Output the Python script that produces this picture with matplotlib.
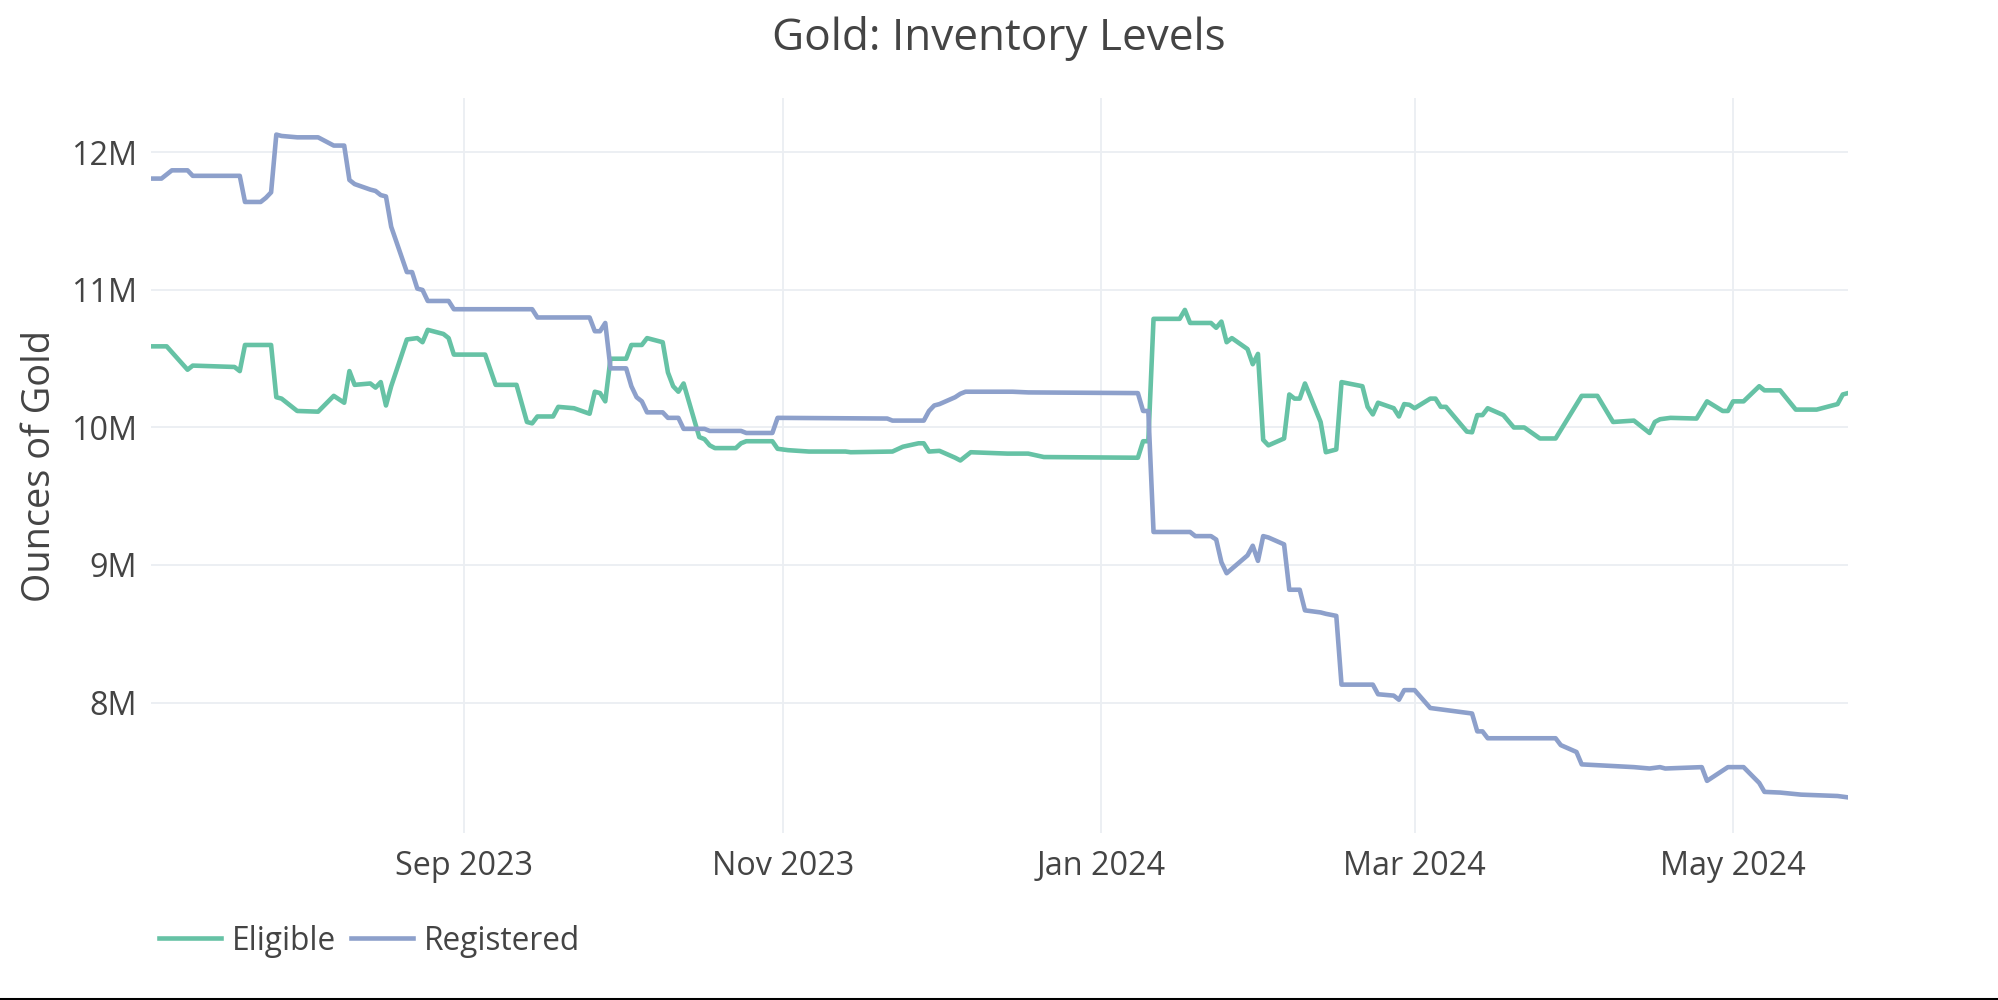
import numpy as np
import matplotlib
matplotlib.use('Agg')
import matplotlib.pyplot as plt
import matplotlib.dates as mdates
import pandas as pd
from matplotlib.lines import Line2D

plt.rcParams['font.family'] = ['Open Sans', 'DejaVu Sans']

# ------------------------------- Data (millions of oz) -------------------------------

elig_dates = ['2023-07-03', '2023-07-06', '2023-07-10', '2023-07-11', '2023-07-19', '2023-07-20',
              '2023-07-21', '2023-07-26', '2023-07-27', '2023-07-28', '2023-07-31', '2023-08-04',
              '2023-08-07', '2023-08-09', '2023-08-10', '2023-08-11', '2023-08-14', '2023-08-15',
              '2023-08-16', '2023-08-17', '2023-08-18', '2023-08-21', '2023-08-23', '2023-08-24',
              '2023-08-25', '2023-08-28', '2023-08-29', '2023-08-30', '2023-09-05', '2023-09-07',
              '2023-09-11', '2023-09-13', '2023-09-14', '2023-09-15', '2023-09-18', '2023-09-19',
              '2023-09-22', '2023-09-25', '2023-09-26', '2023-09-27', '2023-09-28', '2023-09-29',
              '2023-10-02', '2023-10-03', '2023-10-05', '2023-10-06', '2023-10-09', '2023-10-10',
              '2023-10-11', '2023-10-12', '2023-10-13', '2023-10-16', '2023-10-17', '2023-10-18',
              '2023-10-19', '2023-10-23', '2023-10-24', '2023-10-25', '2023-10-30', '2023-10-31',
              '2023-11-02', '2023-11-06', '2023-11-13', '2023-11-14', '2023-11-22', '2023-11-24',
              '2023-11-27', '2023-11-28', '2023-11-29', '2023-12-01', '2023-12-04', '2023-12-05',
              '2023-12-06', '2023-12-07', '2023-12-14', '2023-12-18', '2023-12-21', '2024-01-08',
              '2024-01-09', '2024-01-10', '2024-01-11', '2024-01-16', '2024-01-17', '2024-01-18',
              '2024-01-22', '2024-01-23', '2024-01-24', '2024-01-25', '2024-01-26', '2024-01-29',
              '2024-01-30', '2024-01-31', '2024-02-01', '2024-02-02', '2024-02-05', '2024-02-06',
              '2024-02-07', '2024-02-08', '2024-02-09', '2024-02-12', '2024-02-13', '2024-02-15',
              '2024-02-16', '2024-02-20', '2024-02-21', '2024-02-22', '2024-02-23', '2024-02-26',
              '2024-02-27', '2024-02-28', '2024-02-29', '2024-03-01', '2024-03-04', '2024-03-05',
              '2024-03-06', '2024-03-07', '2024-03-11', '2024-03-12', '2024-03-13', '2024-03-14',
              '2024-03-15', '2024-03-18', '2024-03-20', '2024-03-22', '2024-03-25', '2024-03-28',
              '2024-04-02', '2024-04-05', '2024-04-08', '2024-04-12', '2024-04-15', '2024-04-16',
              '2024-04-17', '2024-04-19', '2024-04-24', '2024-04-26', '2024-04-29', '2024-04-30',
              '2024-05-01', '2024-05-03', '2024-05-06', '2024-05-07', '2024-05-10', '2024-05-13',
              '2024-05-17', '2024-05-21', '2024-05-22', '2024-05-23']
elig_vals = [10.59, 10.59, 10.42, 10.45, 10.44, 10.41,
             10.60, 10.60, 10.22, 10.21, 10.12, 10.115,
             10.23, 10.18, 10.41, 10.31, 10.32, 10.29,
             10.33, 10.16, 10.30, 10.64, 10.65, 10.62,
             10.71, 10.68, 10.65, 10.53, 10.53, 10.31,
             10.31, 10.04, 10.03, 10.08, 10.08, 10.15,
             10.14, 10.10, 10.26, 10.25, 10.19, 10.50,
             10.50, 10.60, 10.60, 10.65, 10.62, 10.40,
             10.30, 10.26, 10.32, 9.93, 9.915, 9.87,
             9.85, 9.85, 9.885, 9.90, 9.90, 9.845,
             9.835, 9.825, 9.825, 9.82, 9.825, 9.86,
             9.885, 9.885, 9.825, 9.83, 9.78, 9.76,
             9.79, 9.82, 9.81, 9.81, 9.785, 9.78,
             9.90, 9.90, 10.79, 10.79, 10.855, 10.76,
             10.76, 10.725, 10.77, 10.62, 10.65, 10.57,
             10.46, 10.535, 9.91, 9.87, 9.92, 10.24,
             10.21, 10.21, 10.32, 10.04, 9.82, 9.84,
             10.33, 10.30, 10.15, 10.095, 10.18, 10.14,
             10.08, 10.17, 10.165, 10.14, 10.21, 10.21,
             10.15, 10.15, 9.97, 9.965, 10.09, 10.09,
             10.14, 10.09, 10.00, 10.00, 9.92, 9.92,
             10.23, 10.23, 10.04, 10.05, 9.96, 10.04,
             10.06, 10.07, 10.065, 10.19, 10.12, 10.12,
             10.19, 10.19, 10.30, 10.27, 10.27, 10.13,
             10.13, 10.17, 10.24, 10.25]

reg_dates = ['2023-07-03', '2023-07-05', '2023-07-07', '2023-07-10', '2023-07-11', '2023-07-20',
             '2023-07-21', '2023-07-24', '2023-07-25', '2023-07-26', '2023-07-27', '2023-07-28',
             '2023-07-31', '2023-08-04', '2023-08-07', '2023-08-09', '2023-08-10', '2023-08-11',
             '2023-08-14', '2023-08-15', '2023-08-16', '2023-08-17', '2023-08-18', '2023-08-21',
             '2023-08-22', '2023-08-23', '2023-08-24', '2023-08-25', '2023-08-29', '2023-08-30',
             '2023-09-14', '2023-09-15', '2023-09-25', '2023-09-26', '2023-09-27', '2023-09-28',
             '2023-09-29', '2023-10-02', '2023-10-03', '2023-10-04', '2023-10-05', '2023-10-06',
             '2023-10-09', '2023-10-10', '2023-10-12', '2023-10-13', '2023-10-17', '2023-10-18',
             '2023-10-24', '2023-10-25', '2023-10-30', '2023-10-31', '2023-11-21', '2023-11-22',
             '2023-11-28', '2023-11-29', '2023-11-30', '2023-12-01', '2023-12-04', '2023-12-05',
             '2023-12-06', '2023-12-15', '2023-12-18', '2024-01-08', '2024-01-09', '2024-01-10',
             '2024-01-11', '2024-01-18', '2024-01-19', '2024-01-22', '2024-01-23', '2024-01-24',
             '2024-01-25', '2024-01-29', '2024-01-30', '2024-01-31', '2024-02-01', '2024-02-02',
             '2024-02-05', '2024-02-06', '2024-02-08', '2024-02-09', '2024-02-12', '2024-02-13',
             '2024-02-15', '2024-02-16', '2024-02-22', '2024-02-23', '2024-02-26', '2024-02-27',
             '2024-02-28', '2024-03-01', '2024-03-04', '2024-03-05', '2024-03-08', '2024-03-12',
             '2024-03-13', '2024-03-14', '2024-03-15', '2024-03-28', '2024-03-29', '2024-04-01',
             '2024-04-02', '2024-04-12', '2024-04-15', '2024-04-17', '2024-04-18', '2024-04-25',
             '2024-04-26', '2024-04-30', '2024-05-03', '2024-05-06', '2024-05-07', '2024-05-10',
             '2024-05-14', '2024-05-21', '2024-05-23']
reg_vals = [11.81, 11.81, 11.87, 11.87, 11.83, 11.83,
            11.64, 11.64, 11.67, 11.71, 12.13, 12.12,
            12.11, 12.11, 12.05, 12.05, 11.80, 11.77,
            11.73, 11.72, 11.69, 11.68, 11.46, 11.13,
            11.13, 11.01, 11.00, 10.92, 10.92, 10.86,
            10.86, 10.80, 10.80, 10.70, 10.70, 10.76,
            10.43, 10.43, 10.30, 10.22, 10.19, 10.11,
            10.11, 10.07, 10.07, 9.99, 9.99, 9.975,
            9.975, 9.96, 9.96, 10.07, 10.065, 10.05,
            10.05, 10.12, 10.16, 10.17, 10.22, 10.245,
            10.26, 10.26, 10.255, 10.25, 10.12, 10.12,
            9.24, 9.24, 9.21, 9.21, 9.185, 9.02,
            8.94, 9.07, 9.14, 9.03, 9.21, 9.20,
            9.15, 8.82, 8.82, 8.67, 8.655, 8.645,
            8.63, 8.13, 8.13, 8.06, 8.05, 8.02,
            8.09, 8.09, 7.96, 7.955, 7.94, 7.92,
            7.79, 7.79, 7.74, 7.74, 7.69, 7.64,
            7.55, 7.53, 7.52, 7.53, 7.52, 7.53,
            7.43, 7.53, 7.53, 7.415, 7.35, 7.345,
            7.33, 7.32, 7.31]

x_ticks = ['2023-09-01', '2023-11-01', '2024-01-01', '2024-03-01', '2024-05-01']
y_ticks = [8, 9, 10, 11, 12]

# ------------------------------- Plot --------------------------------

text_col = '#444444'
grid_col = '#EBEEF2'

fig = plt.figure(figsize=(19.98, 10), dpi=100)
ax = fig.add_axes([151/1998, 1 - 833/1000, (1848 - 151)/1998, (833 - 98)/1000])

ax.plot(pd.to_datetime(elig_dates), elig_vals, color='#66c2a5', linewidth=3.3, label='Eligible')
ax.plot(pd.to_datetime(reg_dates), reg_vals, color='#8da0cb', linewidth=3.3, label='Registered')

ax.set_xlim(pd.Timestamp(elig_dates[0]), pd.Timestamp(elig_dates[-1]))
ax.set_ylim(7.051, 12.396)

ax.set_xticks(pd.to_datetime(x_ticks))
ax.xaxis.set_major_formatter(mdates.DateFormatter('%b %Y'))
ax.set_yticks(y_ticks)
ax.set_yticklabels([f'{v}M' for v in y_ticks])

ax.grid(True, color=grid_col, linewidth=1.3)
ax.set_axisbelow(True)
for s in ax.spines.values():
    s.set_visible(False)
ax.tick_params(axis='both', length=0, labelsize=23.3, labelcolor=text_col)
ax.tick_params(axis='x', pad=12)
ax.tick_params(axis='y', pad=10)

fig.text(0.5, 1 - 50/1000, 'Gold: Inventory Levels', ha='center', va='baseline',
         fontsize=31.8, color=text_col)
fig.text(40/1998, 1 - 465.5/1000, 'Ounces of Gold', ha='center', va='center',
         rotation=90, fontsize=27.3, color=text_col)

leg = fig.legend(loc='center left', bbox_to_anchor=(159/1998, 1 - 941/1000), ncol=2,
                 frameon=False, fontsize=22.8, handlelength=1.95, handletextpad=0.34,
                 columnspacing=0.5, borderpad=0, borderaxespad=0)
for t in leg.get_texts():
    t.set_color(text_col)

# thin frame line at the bottom of the image
fig.add_artist(Line2D([0, 1], [0.0015, 0.0015], color='black', linewidth=2.2,
                      transform=fig.transFigure))

fig.savefig('out.png', dpi=100)
